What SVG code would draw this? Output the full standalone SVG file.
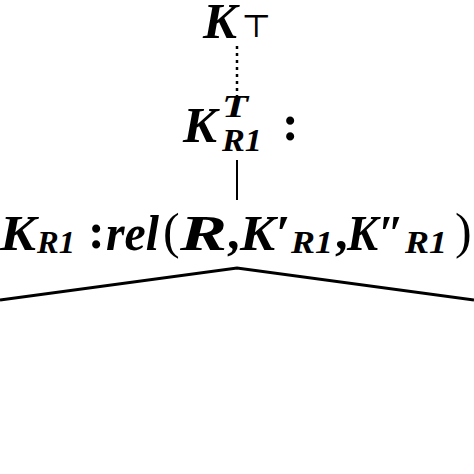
<svg xmlns="http://www.w3.org/2000/svg" width="474" height="474" viewBox="0 0 474 474">
<style>
.m{font-family:"Liberation Serif","DejaVu Serif",serif;font-style:italic;font-weight:bold;fill:#000}
.u{font-family:"Liberation Serif","DejaVu Serif",serif;font-weight:bold;fill:#000}
.big{font-size:50px}
.sub{font-size:32px}
</style>
<rect width="474" height="474" fill="#fff"/>
<g id="connectors" stroke="#000" fill="none">
<line x1="237" y1="46" x2="237" y2="96" stroke-width="2.5" stroke-dasharray="3,4"/>
<line x1="237" y1="160" x2="237" y2="200" stroke-width="2"/>
<polyline points="0,300 237,268 474,300" stroke-width="3"/>
</g>
<g id="node-top">
<text class="m big" x="203" y="38" textLength="34" lengthAdjust="spacingAndGlyphs">K</text>
<text class="u sub" x="241" y="37" style="font-weight:normal">⊤</text>
</g>
<g id="node-mid">
<text class="m big" x="183" y="142" textLength="34" lengthAdjust="spacingAndGlyphs">K</text>
<text class="m sub" x="222" y="117" textLength="26" lengthAdjust="spacingAndGlyphs">T</text>
<text class="m sub" x="222" y="151" textLength="40" lengthAdjust="spacingAndGlyphs">R1</text>
<text class="u big" x="282" y="140">:</text>
</g>
<g id="node-bottom">
<text class="m big" x="0" y="250" textLength="36" lengthAdjust="spacingAndGlyphs">K</text>
<text class="m sub" x="37" y="253" textLength="38" lengthAdjust="spacingAndGlyphs">R1</text>
<text class="u big" x="88" y="248">:</text>
<text class="m big" x="106" y="250" textLength="53" lengthAdjust="spacingAndGlyphs">rel</text>
<text class="u big" x="163" y="248" style="font-weight:normal">(</text>
<text class="m big" x="180" y="250" textLength="47" lengthAdjust="spacingAndGlyphs">R</text>
<text class="u big" x="227" y="248">,</text>
<text class="m big" x="240" y="250" textLength="50" lengthAdjust="spacingAndGlyphs">K′</text>
<text class="m sub" x="291" y="253" textLength="42" lengthAdjust="spacingAndGlyphs">R1</text>
<text class="u big" x="335" y="248">,</text>
<text class="m big" x="347" y="250" textLength="57" lengthAdjust="spacingAndGlyphs">K″</text>
<text class="m sub" x="405" y="253" textLength="42" lengthAdjust="spacingAndGlyphs">R1</text>
<text class="u big" x="455" y="248" style="font-weight:normal">)</text>
</g>
</svg>
